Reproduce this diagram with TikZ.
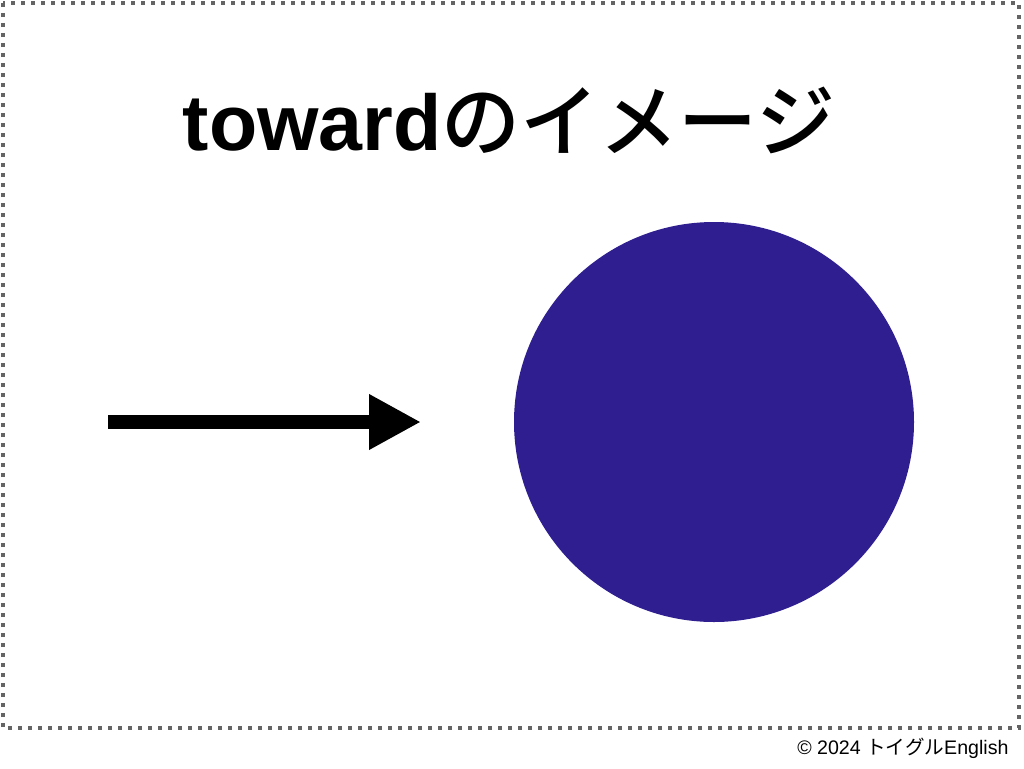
\documentclass[tikz,border=0pt]{standalone}
\usepackage{fontspec}
\setmainfont{Liberation Sans}
\newfontfamily\jpfont{Noto Sans CJK JP}
\newfontfamily\jptitlefont{Noto Sans CJK JP Medium}
\usetikzlibrary{arrows.meta}
\definecolor{ballblue}{RGB}{46,30,143}
\definecolor{framegray}{RGB}{100,100,100}
\begin{document}
\begin{tikzpicture}[x=1pt,y=-1pt]
            \useasboundingbox (0,0) rectangle (1024,768);
            \draw[framegray,line width=4pt,dash pattern=on 4pt off 6pt] (3,3) rectangle (1019,728);

            \node[font=\fontsize{79}{82}\selectfont\bfseries,anchor=base] (title) at (509,150) {toward{\jptitlefont\mdseries のイメージ}};
            \node[shape=circle,fill=ballblue,minimum size=400pt,inner sep=0pt] (ball) at (714,422) {};
            \coordinate (S) at (108,422);
            \coordinate (T) at (421,422);
            \node[font=\fontsize{19.6}{23}\selectfont,anchor=base east] (copy) at (1012,754) {© 2024 {\jpfont トイグル}English};

            %\path [->] (S) edge (ball);
            \draw[black,line width=14pt,-{Triangle[length=52pt,width=52pt]}] (S) -- (T);
        \end{tikzpicture}
\end{document}
